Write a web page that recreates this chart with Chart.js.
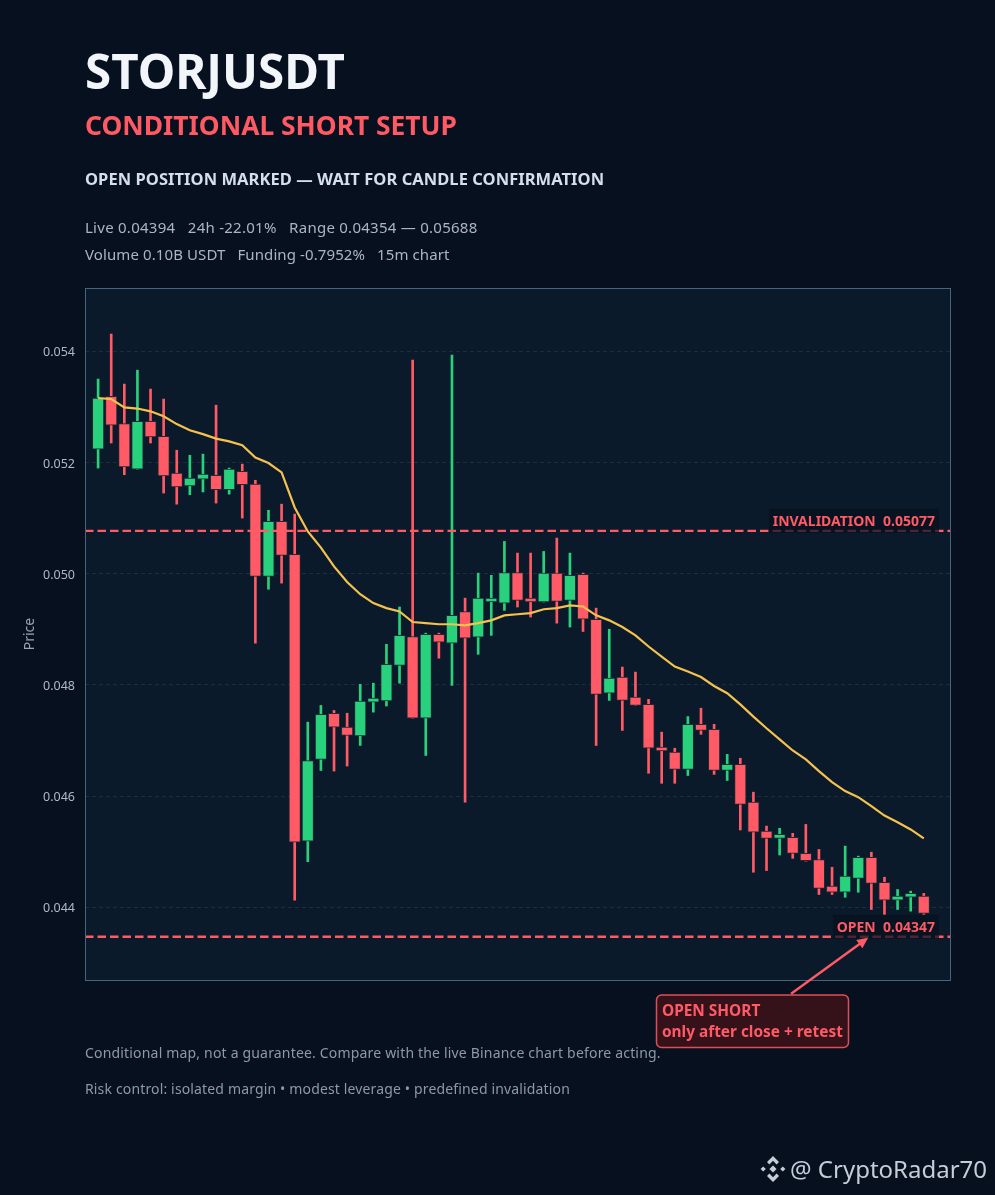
<!DOCTYPE html>
<html>
<head>
<meta charset="utf-8">
<title>STORJUSDT</title>
<script src="https://cdn.jsdelivr.net/npm/chart.js@4"></script>
<style>
    html, body { margin:0; padding:0; background:#07101f; }
    body { width:995px; height:1195px; position:relative; overflow:hidden; font-family:"Noto Sans", sans-serif; }
    canvas { position:absolute; left:0; top:0; }
    .txt { position:absolute; left:85px; white-space:pre; line-height:1; }
    #title { top:47px; font-size:47.5px; font-weight:700; color:#f2f6fb; }
    #sub { top:112px; font-size:26.4px; font-weight:700; color:#ff5964; }
    #head { top:171px; font-size:16.5px; font-weight:700; color:#d5deea; letter-spacing:0.05px; }
    #info1 { top:220px; font-size:15px; letter-spacing:0.26px; color:#aab6c4; }
    #info2 { top:247px; font-size:15px; letter-spacing:0.1px; color:#aab6c4; }
    #foot1 { top:1046px; font-size:14px; letter-spacing:0.18px; color:#8d99a8; }
    #foot2 { top:1082px; font-size:14px; letter-spacing:0.15px; color:#8d99a8; }
    #mark { position:absolute; left:790px; top:1154px; color:#c6cdd7; font-size:24px; line-height:30px; white-space:pre; }
    #logo { position:absolute; left:759px; top:1155px; }
</style>
</head>
<body>
<canvas id="myChart" width="995" height="1195"></canvas>
<div class="txt" id="title">STORJUSDT</div>
<div class="txt" id="sub">CONDITIONAL SHORT SETUP</div>
<div class="txt" id="head">OPEN POSITION MARKED — WAIT FOR CANDLE CONFIRMATION</div>
<div class="txt" id="info1">Live 0.04394   24h -22.01%   Range 0.04354 — 0.05688</div>
<div class="txt" id="info2">Volume 0.10B USDT   Funding -0.7952%   15m chart</div>
<div class="txt" id="foot1">Conditional map, not a guarantee. Compare with the live Binance chart before acting.</div>
<div class="txt" id="foot2">Risk control: isolated margin • modest leverage • predefined invalidation</div>
<svg id="logo" width="28" height="28" viewBox="0 0 28 28"><g fill="#c6cdd7"><path d="M14 1l6 6-2.4 2.4L14 5.8l-3.6 3.6L8 7z"/><path d="M14 27l6-6-2.4-2.4L14 22.2l-3.6-3.6L8 21z"/><path d="M4.2 11.4L6.8 14l-2.6 2.6L1.6 14z"/><path d="M23.8 11.4l2.6 2.6-2.6 2.6-2.6-2.6z"/><path d="M14 10.4l3.6 3.6-3.6 3.6-3.6-3.6z"/></g></svg>
<div id="mark">@ CryptoRadar70</div>
<script>
const opens = [0.05224,0.05319,0.05270,0.05188,0.05274,0.05247,0.05181,0.05158,0.05170,0.05177,0.05151,0.05184,0.05161,0.04995,0.05094,0.05035,
    0.04519,0.04666,0.04749,0.04724,0.04708,0.04769,0.04771,0.04835,0.04887,0.04740,0.04891,0.04875,0.04932,0.04886,0.04949,0.04947,
    0.05002,0.04954,0.04949,0.05001,0.04952,0.04999,0.04918,0.04785,0.04814,0.04778,0.04765,0.04688,0.04679,0.04648,0.04729,0.04720,
    0.04646,0.04657,0.04589,0.04537,0.04524,0.04526,0.04497,0.04486,0.04438,0.04427,0.04452,0.04490,0.04445,0.04413,0.04418,0.04420];
const closes = [0.05316,0.05267,0.05192,0.05274,0.05246,0.05176,0.05156,0.05172,0.05179,0.05151,0.05188,0.05160,0.04995,0.05094,0.05033,0.04517,
    0.04664,0.04747,0.04724,0.04709,0.04771,0.04772,0.04837,0.04889,0.04740,0.04891,0.04877,0.04925,0.04884,0.04956,0.04952,0.05002,
    0.04952,0.04949,0.05001,0.04950,0.04997,0.04918,0.04783,0.04812,0.04772,0.04763,0.04686,0.04681,0.04648,0.04729,0.04718,0.04646,
    0.04657,0.04585,0.04535,0.04524,0.04528,0.04497,0.04484,0.04434,0.04427,0.04456,0.04490,0.04443,0.04413,0.04420,0.04422,0.04389];
const highs = [0.05350,0.05431,0.05341,0.05366,0.05332,0.05314,0.05222,0.05213,0.05215,0.05303,0.05190,0.05197,0.05168,0.05114,0.05125,0.05107,
    0.04733,0.04763,0.04754,0.04749,0.04801,0.04803,0.04873,0.04940,0.05384,0.04893,0.04893,0.05393,0.04956,0.05001,0.04997,0.05058,
    0.05037,0.05037,0.05040,0.05064,0.05037,0.05001,0.04938,0.04900,0.04832,0.04823,0.04774,0.04715,0.04686,0.04743,0.04758,0.04729,
    0.04675,0.04668,0.04607,0.04546,0.04542,0.04533,0.04549,0.04504,0.04472,0.04510,0.04492,0.04499,0.04454,0.04432,0.04429,0.04425];
const lows = [0.05190,0.05235,0.05178,0.05188,0.05235,0.05145,0.05125,0.05142,0.05147,0.05127,0.05143,0.05100,0.04875,0.04972,0.04983,0.04413,
    0.04482,0.04646,0.04645,0.04654,0.04691,0.04751,0.04762,0.04803,0.04740,0.04673,0.04848,0.04799,0.04589,0.04855,0.04889,0.04934,
    0.04940,0.04922,0.04949,0.04911,0.04904,0.04896,0.04691,0.04772,0.04718,0.04763,0.04641,0.04623,0.04623,0.04637,0.04711,0.04639,
    0.04628,0.04539,0.04463,0.04466,0.04494,0.04488,0.04483,0.04423,0.04423,0.04418,0.04427,0.04396,0.04387,0.04396,0.04393,0.04387];
const ema = [0.05316,0.05314,0.05299,0.05297,0.05292,0.05283,0.05269,0.05258,0.05251,0.05243,0.05238,0.05231,0.05209,0.05199,0.05182,0.05119,
    0.05076,0.05047,0.05013,0.04985,0.04963,0.04947,0.04938,0.04932,0.04913,0.04911,0.04909,0.04909,0.04907,0.04911,0.04916,0.04925,
    0.04927,0.04929,0.04936,0.04938,0.04943,0.04941,0.04925,0.04916,0.04904,0.04889,0.04869,0.04851,0.04833,0.04824,0.04814,0.04798,
    0.04785,0.04765,0.04743,0.04722,0.04702,0.04682,0.04666,0.04645,0.04625,0.04609,0.04598,0.04582,0.04565,0.04553,0.04540,0.04524];
const priceTicks = [0.044,0.046,0.048,0.050,0.052,0.054];
const invalidationPrice = 0.05077;
const openPrice = 0.04347;
const axisEnds = [-1,65];

const RED = '#ff5a65', GREEN = '#28d17c', EDGE = '#1c2936';

const idx = opens.map(function(v,i){ return i; });
const colors = idx.map(function(i){ return closes[i] >= opens[i] ? GREEN : RED; });

function hline(price) {
    return {
        type:'line', order:1,
        data: axisEnds.map(function(x){ return {x:x, y:price}; }),
        borderColor:RED, borderWidth:2.4, borderDash:[8.5,4], pointRadius:0
    };
}

// panel background and frame, drawn by hand since chart.js has no panel option
const panel = {
    id:'panel',
    beforeDraw: function(c) {
        const a = c.chartArea, g = c.ctx;
        g.save();
        g.fillStyle = '#0b1a2a';
        g.fillRect(a.left, a.top, a.width, a.height);
        g.restore();
    },
    afterDraw: function(c) {
        const a = c.chartArea, g = c.ctx;
        g.save();
        g.strokeStyle = '#47647f';
        g.lineWidth = 1;
        g.strokeRect(a.left+0.5, a.top+0.5, a.width, a.height);
        g.restore();
    }
};

function priceLabel(g, text, y, right) {
    g.font = '700 14px "Noto Sans"';
    const w = g.measureText(text).width;
    g.fillStyle = 'rgba(7,16,31,0.72)';
    g.fillRect(right-w-4, y-22, w+8, 24);
    g.fillStyle = RED;
    g.textAlign = 'right';
    g.textBaseline = 'middle';
    g.fillText(text, right, y-9);
}

const notes = {
    id:'notes',
    afterDraw: function(c) {
        const g = c.ctx, xs = c.scales.x, ys = c.scales.y, right = c.chartArea.right-15;
        g.save();
        priceLabel(g, 'INVALIDATION  ' + invalidationPrice.toFixed(5), ys.getPixelForValue(invalidationPrice), right);
        priceLabel(g, 'OPEN  ' + openPrice.toFixed(5), ys.getPixelForValue(openPrice), right);

        // arrow from the callout up to the open line
        const tipX = xs.getPixelForValue(58.75), tipY = ys.getPixelForValue(openPrice)+1;
        const tailX = tipX-77, tailY = tipY+56;
        const ang = Math.atan2(tipY-tailY, tipX-tailX);
        g.strokeStyle = RED; g.fillStyle = RED; g.lineWidth = 2.4;
        g.beginPath(); g.moveTo(tailX, tailY);
        g.lineTo(tipX-8*Math.cos(ang), tipY-8*Math.sin(ang)); g.stroke();
        g.beginPath(); g.moveTo(tipX, tipY);
        g.lineTo(tipX-12*Math.cos(ang-0.45), tipY-12*Math.sin(ang-0.45));
        g.lineTo(tipX-12*Math.cos(ang+0.45), tipY-12*Math.sin(ang+0.45));
        g.closePath(); g.fill();

        // callout box
        g.fillStyle = '#35121a';
        g.strokeStyle = 'rgba(255,90,101,0.85)';
        g.lineWidth = 1.5;
        g.beginPath(); g.roundRect(656.5, 995, 192, 52.5, 5); g.fill(); g.stroke();
        g.fillStyle = RED;
        g.textAlign = 'left';
        g.textBaseline = 'middle';
        g.font = '700 15.4px "Noto Sans"';
        g.fillText('OPEN SHORT', 662, 1012);
        g.fillText('only after close + retest', 662, 1033);
        g.restore();
    }
};

new Chart(document.getElementById('myChart').getContext('2d'), {
    type:'bar',
    data: {
        datasets: [
            {
                type:'line', order:0,
                data: idx.map(function(i){ return {x:i, y:ema[i]}; }),
                borderColor:'#f4c24d', borderWidth:2.2, pointRadius:0, tension:0
            },
            hline(invalidationPrice),
            hline(openPrice),
            {
                order:2, grouped:false, barThickness:11.5, minBarLength:4,
                borderWidth:1, borderColor:EDGE, borderSkipped:false,
                data: idx.map(function(i){ return {x:i, y:[opens[i], closes[i]]}; }),
                backgroundColor:colors
            },
            {
                order:3, grouped:false, barThickness:2,
                data: idx.map(function(i){ return {x:i, y:[lows[i], highs[i]]}; }),
                backgroundColor:colors
            }
        ]
    },
    options: {
        responsive:false,
        animation:false,
        layout:{ padding:{ left:22, right:45, top:288, bottom:215 } },
        plugins:{ legend:{display:false}, tooltip:{enabled:false} },
        scales:{
            x:{ type:'linear', display:false, offset:false, min:axisEnds[0], max:axisEnds[1], grid:{display:false} },
            y:{
                min:0.042692, max:0.055138,
                afterFit:function(s){ s.width = 63; },
                afterBuildTicks:function(s){ s.ticks = priceTicks.map(function(v){ return {value:v}; }); },
                // blank first line nudges the label down to sit where the reference has it
                ticks:{ color:'#aeb9c6', font:{family:'"Noto Sans"', size:12.5, lineHeight:'3px'}, padding:10,
                    callback:function(v){ return ['', v.toFixed(3)]; } },
                grid:{ color:'rgba(120,150,170,0.16)', z:1, drawTicks:false, lineWidth:1 },
                border:{ display:false, dash:[4,3] },
                title:{ display:true, text:'Price', color:'#98a5b4', font:{family:'"Noto Sans"', size:14}, padding:0 }
            }
        }
    },
    plugins:[panel, notes]
});
</script>
</body>
</html>
